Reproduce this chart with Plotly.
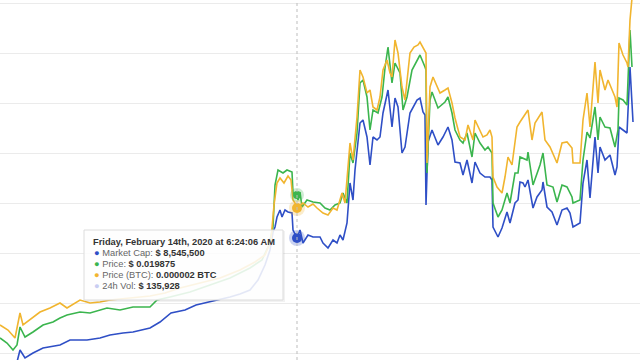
import plotly.graph_objects as go

# sample positions (time index) and values (normalised units)
yellow_x = [0, 8, 15, 20, 23, 33, 40, 50, 60, 67, 80, 90, 100, 110, 130, 150, 165, 180, 200, 220, 240, 255, 265, 271, 274, 277, 280, 284, 288, 291, 293, 295, 297, 300, 303, 308, 313, 317, 323, 328, 333, 337, 342, 345, 350, 353, 357, 360, 363, 367, 370, 373, 377, 380, 383, 387, 390, 392, 395, 398, 402, 405, 410, 414, 418, 420, 425, 426, 427, 430, 433, 437, 440, 445, 448, 452, 455, 460, 465, 468, 473, 475, 480, 483, 487, 490, 492, 493, 497, 502, 505, 508, 512, 517, 520, 525, 528, 532, 535, 542, 545, 550, 557, 562, 567, 572, 573, 580, 583, 587, 590, 595, 598, 600, 605, 608, 615, 617, 619, 623, 627, 628, 630, 632]
yellow_v = [35, 30, 22, 47, 35, 43, 48, 52, 57, 52, 60, 57, 58, 60, 62, 64, 67, 72, 77, 82, 90, 98, 105, 120, 155, 177, 182, 177, 184, 180, 160, 157, 152, 155, 157, 153, 156, 152, 147, 145, 152, 150, 167, 157, 217, 200, 243, 290, 283, 267, 270, 253, 250, 263, 290, 300, 287, 283, 320, 307, 273, 260, 307, 313, 315, 318, 310, 307, 197, 273, 283, 273, 267, 270, 272, 257, 242, 223, 220, 235, 220, 240, 230, 223, 225, 230, 223, 183, 173, 167, 183, 203, 195, 233, 238, 245, 250, 220, 237, 248, 220, 213, 197, 217, 218, 212, 197, 197, 240, 267, 233, 298, 257, 290, 270, 280, 263, 253, 317, 305, 297, 293, 340, 362]

green_x = [0, 7, 13, 17, 20, 25, 33, 43, 53, 60, 67, 80, 90, 100, 107, 120, 133, 150, 157, 170, 190, 210, 230, 250, 262, 269, 273, 275, 278, 283, 287, 292, 293, 297, 298, 300, 302, 307, 313, 320, 325, 330, 335, 340, 343, 347, 350, 353, 357, 360, 363, 367, 370, 373, 378, 382, 385, 388, 392, 395, 400, 403, 407, 412, 416, 420, 425, 426, 427, 430, 432, 438, 445, 448, 452, 455, 460, 463, 467, 472, 475, 480, 485, 488, 492, 493, 498, 502, 507, 510, 515, 518, 520, 527, 528, 533, 540, 543, 547, 553, 557, 562, 567, 572, 573, 580, 583, 587, 590, 595, 598, 600, 605, 610, 615, 618, 619, 623, 627, 629, 630, 632]
green_v = [22, 17, 10, 15, 33, 23, 28, 35, 38, 42, 45, 48, 47, 50, 52, 50, 53, 53, 60, 63, 68, 75, 82, 92, 100, 115, 133, 175, 190, 187, 190, 188, 167, 165, 160, 168, 153, 160, 158, 157, 152, 150, 155, 157, 167, 157, 207, 197, 227, 277, 280, 263, 230, 250, 247, 263, 292, 313, 277, 297, 287, 250, 263, 290, 298, 305, 293, 290, 187, 260, 268, 252, 258, 263, 247, 230, 220, 217, 227, 203, 227, 217, 210, 213, 207, 157, 143, 150, 167, 157, 187, 187, 203, 200, 208, 175, 195, 207, 175, 173, 158, 175, 173, 163, 157, 160, 200, 228, 222, 253, 220, 243, 233, 232, 213, 230, 262, 260, 255, 310, 330, 293]

blue_x = [0, 10, 17, 20, 25, 33, 43, 60, 70, 87, 100, 110, 123, 133, 150, 160, 171, 185, 196, 210, 218, 230, 240, 250, 258, 265, 270, 273, 275, 277, 280, 282, 285, 288, 292, 293, 297, 300, 303, 308, 313, 320, 323, 328, 333, 337, 340, 343, 347, 350, 353, 355, 360, 363, 367, 370, 373, 377, 380, 383, 388, 392, 395, 398, 402, 405, 410, 413, 417, 420, 423, 425, 426, 428, 432, 438, 443, 448, 452, 455, 460, 463, 467, 472, 475, 480, 485, 490, 492, 493, 498, 502, 507, 510, 515, 518, 520, 523, 525, 528, 533, 537, 542, 543, 547, 552, 557, 562, 567, 570, 573, 580, 583, 587, 590, 595, 598, 600, 605, 610, 615, 617, 619, 623, 627, 630, 633]
blue_v = [-12, -8, -2, 10, 2, 7, 12, 15, 20, 20, 22, 25, 27, 28, 32, 38, 47, 50, 55, 58, 60, 63, 66, 70, 80, 95, 110, 128, 133, 143, 150, 143, 150, 148, 147, 130, 122, 130, 117, 125, 123, 123, 117, 112, 120, 117, 125, 120, 137, 177, 160, 190, 237, 240, 223, 195, 223, 220, 223, 247, 270, 233, 262, 253, 207, 213, 247, 253, 260, 262, 248, 245, 155, 218, 230, 215, 223, 233, 220, 198, 197, 185, 200, 177, 198, 187, 183, 183, 180, 133, 123, 132, 148, 137, 157, 160, 178, 177, 173, 180, 152, 163, 170, 178, 153, 148, 135, 150, 152, 147, 133, 137, 177, 200, 162, 223, 187, 213, 200, 205, 185, 193, 233, 230, 227, 293, 238]

hover_index = 297
tooltip_title = "Friday, February 14th, 2020 at 6:24:06 AM"
tooltip_labels = ["Market Cap:", "Price:", "Price (BTC):", "24h Vol:"]
tooltip_values = ["$ 8,545,500", "$ 0.019875", "0.000002 BTC", "$ 135,928"]

BLUE = "#2f4fc6"
GREEN = "#3bb54e"
YELLOW = "#f1b52f"
LAVENDER = "#c9cdf2"
FONT = "Liberation Sans"

fig = go.Figure()
for xs, vs, col in [(blue_x, blue_v, BLUE), (green_x, green_v, GREEN), (yellow_x, yellow_v, YELLOW)]:
    fig.add_trace(go.Scatter(x=xs, y=vs, mode="lines", line=dict(color=col, width=1.6),
                             hoverinfo="skip", showlegend=False))

# hover markers at the hovered sample
for xs, vs, col, sz in [(green_x, green_v, GREEN, 8), (yellow_x, yellow_v, YELLOW, 10), (blue_x, blue_v, BLUE, 10)]:
    v = vs[xs.index(hover_index)]
    fig.add_trace(go.Scatter(x=[hover_index], y=[v], mode="markers",
                             marker=dict(color=col, size=sz + 6, opacity=0.25), hoverinfo="skip", showlegend=False))
    fig.add_trace(go.Scatter(x=[hover_index], y=[v], mode="markers",
                             marker=dict(color=col, size=sz), hoverinfo="skip", showlegend=False))

fig.add_vline(x=hover_index, line=dict(color="#bdbdbd", width=1, dash="dot"))

# tooltip box
fig.add_shape(type="rect", xref="x", yref="y", x0=85, x1=285, y0=58, y1=129, layer="above",
              fillcolor="rgba(0,0,0,0.05)", line=dict(width=0))
fig.add_shape(type="rect", xref="x", yref="y", x0=84, x1=283, y0=60, y1=130, layer="above",
              fillcolor="rgba(255,255,255,0.87)", line=dict(color="#dcdcdc", width=1))

fig.add_annotation(x=91, y=118, xref="x", yref="y", xanchor="left", yanchor="middle",
                   text=f"<b>{tooltip_title}</b>", showarrow=False,
                   font=dict(family=FONT, size=9.3, color="#333"))
dots = [BLUE, GREEN, YELLOW, LAVENDER]
row_v = [107, 96, 85, 74]
for c, lab, val, rv in zip(dots, tooltip_labels, tooltip_values, row_v):
    fig.add_annotation(x=92, y=rv, xref="x", yref="y", xanchor="left", yanchor="middle", showarrow=False,
                       text=f"<span style='color:{c}'>●</span> <span style='color:#666'>{lab}</span> <b>{val}</b>",
                       font=dict(family=FONT, size=9.3, color="#333"))

fig.update_layout(width=640, height=360, margin=dict(l=0, r=0, t=0, b=0),
                  paper_bgcolor="white", plot_bgcolor="white", showlegend=False)
fig.update_xaxes(range=[0, 640], visible=False, showgrid=False)
fig.update_yaxes(range=[0, 360], showgrid=True, gridcolor="#ebebeb", gridwidth=1,
                 tick0=7, dtick=50, showticklabels=False, zeroline=False, showline=False, ticks="")

fig.write_html("out.html", config={"displayModeBar": False},
               post_script="document.body.style.margin='0';")
